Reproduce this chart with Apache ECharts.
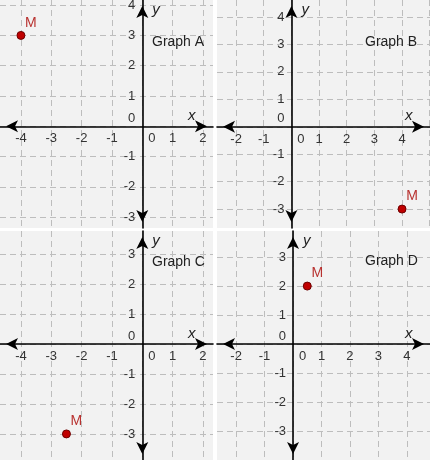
<!DOCTYPE html>
<html>
<head>
<meta charset="utf-8">
<script src="https://cdn.jsdelivr.net/npm/echarts@6/dist/echarts.min.js"></script>
<style>html,body{margin:0;padding:0;background:#fff}#c{width:430px;height:460px}</style>
</head>
<body>
<div id="c"></div>
<script>
// ---- data ----
const graphNames = ['Graph A', 'Graph B', 'Graph C', 'Graph D'];
const pointLabel = 'M';
const pointsX = [-4, 4, -2.5, 0.5];
const pointsY = [3, -3, -3, 2];
const xTicksA = [-4, -3, -2, -1, 0, 1, 2];
const xTicksB = [-2, -1, 0, 1, 2, 3, 4];
const xTicksC = [-4, -3, -2, -1, 0, 1, 2];
const xTicksD = [-2, -1, 0, 1, 2, 3, 4];
const yTicksA = [-3, -2, -1, 0, 1, 2, 3, 4];
const yTicksB = [-3, -2, -1, 0, 1, 2, 3, 4];
const yTicksC = [-3, -2, -1, 0, 1, 2, 3];
const yTicksD = [-3, -2, -1, 0, 1, 2, 3];
const xTicks = [xTicksA, xTicksB, xTicksC, xTicksD];
const yTicks = [yTicksA, yTicksB, yTicksC, yTicksD];

// ---- layout (positions / ranges) ----
const panels = [
  { left: 0,   top: 0,   width: 213, height: 228, xr: [-4.69, 2.33], yr: [-3.36, 4.17], title: [152, 35] },
  { left: 217, top: 0,   width: 213, height: 228, xr: [-2.69, 5.01], yr: [-3.69, 4.62], title: [365, 35] },
  { left: 0,   top: 231, width: 213, height: 229, xr: [-4.69, 2.33], yr: [-3.87, 3.77], title: [152, 255] },
  { left: 217, top: 231, width: 213, height: 229, xr: [-2.67, 4.81], yr: [-4.0, 3.9],  title: [365, 254] }
];
const FONT = 'Liberation Sans, Arial, sans-serif';
const axisLineStyle = { color: '#000', width: 1.6 };
const splitStyle = { color: '#bdbdbd', width: 1, type: [6, 4] };

const grid = [], xAxis = [], yAxis = [], series = [], title = [];
panels.forEach((p, i) => {
  grid.push({ left: p.left, top: p.top, width: p.width, height: p.height, show: true,
    backgroundColor: '#f2f2f2', borderWidth: 0, containLabel: false, outerBoundsMode: 'none' });
  const xt = i === 1 ? xTicks[i].concat([5]) : xTicks[i];
  // place each axis line through the origin (shift from grid edge to zero)
  const xOff = p.yr[0] / (p.yr[1] - p.yr[0]) * p.height;
  const yOff = p.xr[0] / (p.xr[1] - p.xr[0]) * p.width;
  xAxis.push({
    type: 'value', gridIndex: i, min: p.xr[0], max: p.xr[1], position: 'bottom', offset: xOff,
    name: 'x', nameLocation: 'end', nameGap: -25, nameMoveOverlap: false,
    nameTextStyle: { fontStyle: 'italic', fontSize: 15, color: '#222', fontFamily: FONT,
      align: 'left', verticalAlign: 'bottom', padding: [0, 0, 3, 0] },
    axisLine: { show: true, onZero: false, lineStyle: axisLineStyle,
      symbol: ['arrow', 'arrow'], symbolSize: [9, 12], symbolOffset: [6, -6] },
    axisTick: { show: false, customValues: xt },
    splitLine: { show: true, lineStyle: splitStyle },
    axisLabel: { customValues: xTicks[i], color: '#333', fontSize: 13, fontFamily: FONT, margin: 6,
      hideOverlap: false,
      formatter: v => v === 0 ? '{z|0}' : String(v),
      rich: { z: { padding: [0, 0, 0, 19], fontSize: 13, color: '#333', fontFamily: FONT } } }
  });
  yAxis.push({
    type: 'value', gridIndex: i, min: p.yr[0], max: p.yr[1], position: 'left', offset: yOff,
    name: 'y', nameLocation: 'end', nameGap: -2, nameMoveOverlap: false,
    nameTextStyle: { fontStyle: 'italic', fontSize: 15, color: '#222', fontFamily: FONT,
      align: 'left', verticalAlign: 'top', padding: [0, 0, 0, 10] },
    axisLine: { show: true, onZero: false, lineStyle: axisLineStyle,
      symbol: ['arrow', 'arrow'], symbolSize: [9, 12], symbolOffset: [6, -6] },
    axisTick: { show: false, customValues: yTicks[i] },
    splitLine: { show: true, lineStyle: splitStyle },
    axisLabel: { customValues: yTicks[i], color: '#333', fontSize: 13, fontFamily: FONT, margin: 7,
      hideOverlap: false,
      formatter: v => v === 0 ? '{z|0}' : String(v),
      rich: { z: { padding: [0, 0, 16, 0], fontSize: 13, color: '#333', fontFamily: FONT } } }
  });
  series.push({
    type: 'scatter', xAxisIndex: i, yAxisIndex: i,
    data: [[pointsX[i], pointsY[i]]],
    symbolSize: 8,
    itemStyle: { color: '#c00000', borderColor: '#6e0000', borderWidth: 1, opacity: 1 },
    label: { show: true, formatter: pointLabel, position: 'top', distance: 1, offset: [10, 0],
      color: '#b8312f', fontSize: 14, fontFamily: FONT },
    silent: true, z: 5
  });
  title.push({ text: graphNames[i], left: p.title[0], top: p.title[1], padding: 0,
    textStyle: { fontSize: 14, fontWeight: 'normal', color: '#222', fontFamily: FONT } });
});

const chart = echarts.init(document.getElementById('c'));
chart.setOption({ animation: false, backgroundColor: '#ffffff', title, grid, xAxis, yAxis, series });
</script>
</body>
</html>
